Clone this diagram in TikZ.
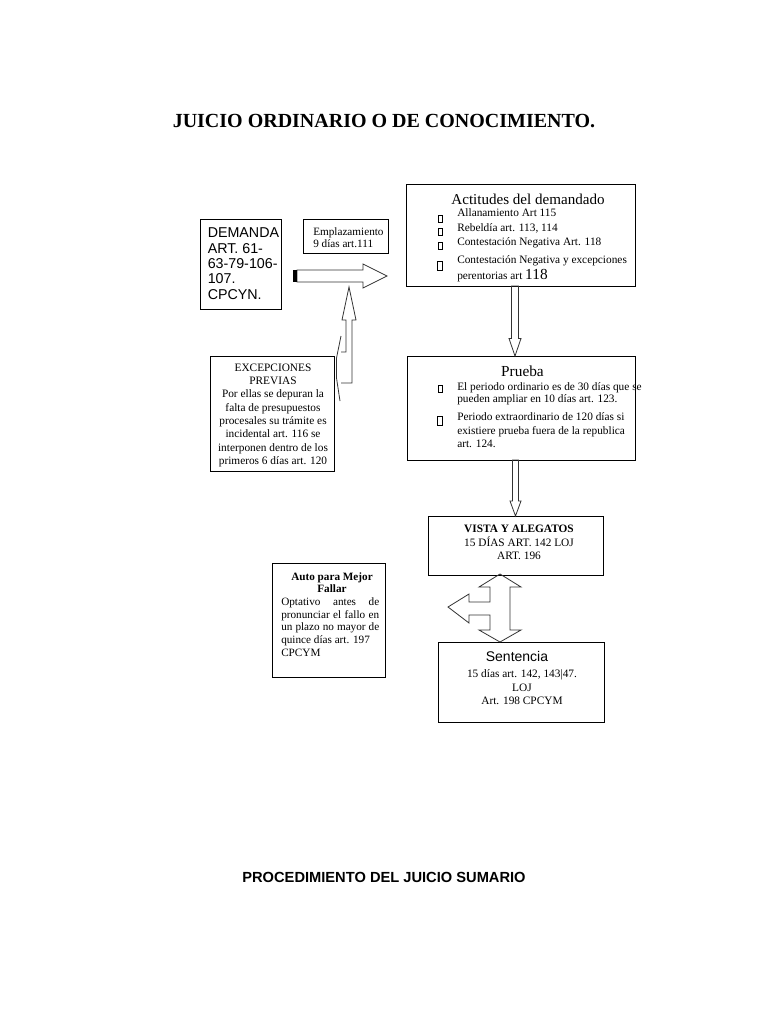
\documentclass[tikz,border=0pt]{standalone}
\usepackage{fontspec}
\setmainfont{Liberation Serif}
\setsansfont{Liberation Sans}
\newcommand{\txtsize}{\fontsize{8.5}{10}\selectfont}
\begin{document}
\begin{tikzpicture}[x=0.75pt,y=-0.75pt,
    box/.style={draw, line width=0.7pt, inner sep=0pt, outer sep=0pt},
    txt/.style={inner sep=0pt, font=\txtsize},
    bul/.style={draw, line width=0.4pt, inner sep=0pt, minimum width=3pt, minimum height=5.2pt},
    bigbul/.style={bul, minimum width=3.8pt, minimum height=7pt},
    blockarrow/.style={draw=black!80, line width=0.6pt}]
        \useasboundingbox (0,0) rectangle (768,1024);

        \node[inner sep=0pt, anchor=base, font=\fontsize{15}{18}\selectfont\bfseries] (title) at (384,127.3) {JUICIO ORDINARIO O DE CONOCIMIENTO.};

        % boxes
        \node[box, minimum width=60.75pt, minimum height=67.5pt] (dem) at (240.5,264) {};
        \node[box, minimum width=63.75pt, minimum height=25.5pt] (empl) at (345.5,236) {};
        \node[box, minimum width=93pt, minimum height=86.25pt] (exc) at (272,413.5) {};
        \node[box, minimum width=171.75pt, minimum height=76.5pt] (act) at (520.5,235) {};
        \node[box, minimum width=171pt, minimum height=78pt] (prueba) at (521,408) {};
        \node[box, minimum width=131.25pt, minimum height=44.25pt] (vista) at (515.5,545.5) {};
        \node[box, minimum width=84.75pt, minimum height=85.5pt] (auto) at (328.5,620) {};
        \node[box, minimum width=124.5pt, minimum height=60pt] (sent) at (521,682) {};

        % texts
        \node[inner sep=0pt, anchor=north west, align=left, font=\sffamily\fontsize{10.7}{11.5}\selectfont] (demtxt) at (207.5,227.8) {DEMANDA\\ART. 61-\\63-79-106-\\107.\\CPCYN.};
        \node[txt, anchor=north west, align=left, font=\fontsize{8.4}{8.8}\selectfont] (empltxt) at (313,227.5) {Emplazamiento\\9 días art.111};
        \node[txt, anchor=north, align=center] (exctxt) at (273,363.5) {EXCEPCIONES\\PREVIAS\\Por ellas se depuran la\\falta de presupuestos\\procesales su trámite es\\incidental  art. 116 se\\interponen dentro de los\\primeros 6 días  art. 120};

        \node[inner sep=0pt, anchor=base, font=\fontsize{11.3}{13}\selectfont] (acttit) at (528,204) {Actitudes del demandado};
        \node[bul] (b1) at (440,218.3) {};
        \node[bul] (b2) at (440,232) {};
        \node[bul] (b3) at (440,246) {};
        \node[bigbul] (b4) at (440,266) {};
        \node[txt, anchor=base west] (a1) at (457,216.5) {Allanamiento Art 115};
        \node[txt, anchor=base west] (a2) at (457,231) {Rebeldía  art. 113, 114};
        \node[txt, anchor=base west] (a3) at (457,245) {Contestación Negativa Art. 118};
        \node[txt, anchor=base west] (a4) at (457,263) {Contestación Negativa y excepciones};
        \node[txt, anchor=base west] (a5) at (457,279.5) {perentorias art {\fontsize{11.5}{12}\selectfont 118}};

        \node[inner sep=0pt, anchor=base, font=\fontsize{11.5}{13}\selectfont] (prtit) at (522.5,376.5) {Prueba};
        \node[bul] (b5) at (440,389) {};
        \node[bigbul] (b6) at (440,421) {};
        \node[txt, anchor=base west] (p1) at (457,390.5) {El periodo ordinario es de 30 días que se};
        \node[txt, anchor=base west] (p2) at (457,402.5) {pueden ampliar en 10 días art. 123.};
        \node[txt, anchor=base west] (p3) at (457,420) {Periodo extraordinario de 120 días si};
        \node[txt, anchor=base west] (p4) at (457,434) {existiere prueba fuera de la republica};
        \node[txt, anchor=base west] (p5) at (457,447.5) {art. 124.};

        \node[txt, anchor=north, align=center] (vistatxt) at (519,525) {\textbf{VISTA Y ALEGATOS}\\15 DÍAS ART. 142 LOJ\\ART. 196};

        \node[txt, anchor=north, align=center, font=\fontsize{8.4}{8.8}\selectfont\bfseries] (autotit) at (332,572.5) {Auto para Mejor\\Fallar};
        \node[txt, anchor=north west, align=left, font=\fontsize{8.4}{9.5}\selectfont] (autotxt) at (281,597.5) {\makebox[73.5pt][s]{Optativo antes de}\\\makebox[73.5pt][s]{pronunciar el fallo en}\\\makebox[73.5pt][s]{un plazo no mayor de}\\quince días art. 197\\CPCYM};

        \node[inner sep=0pt, anchor=base, font=\sffamily\fontsize{10.5}{12}\selectfont] (senttit) at (517,661.7) {Sentencia};
        \node[txt, anchor=north, align=center, font=\fontsize{8.5}{10.4}\selectfont] (senttxt) at (522,669) {15 días art. 142, 143|47.\\LOJ\\Art. 198 CPCYM};

        % block arrows
        \draw[blockarrow] (297,270) -- (363,270) -- (363,264) -- (387,276) -- (363,288) -- (363,282) -- (297,282) -- cycle;
        \fill (293,270) rectangle (297,282);

        \draw[blockarrow] (341,352) -- (346,352) -- (346,320) -- (342,320) -- (349,287) -- (356,320) -- (352,320) -- (352,383) -- (341,383);
        \draw[blockarrow] (341,336) -- (336.5,358) -- (336.5,378) -- (340,401);

        \draw[blockarrow] (511.5,286) -- (518.5,286) -- (518.5,338.5) -- (521,338.5) -- (515,356) -- (509,338.5) -- (511.5,338.5) -- cycle;
        \draw[blockarrow] (512.5,460) -- (518.5,460) -- (518.5,501) -- (521,501) -- (515.5,516) -- (510,501) -- (512.5,501) -- cycle;

        \draw[blockarrow] (500,574) -- (521,587) -- (510,587) -- (510,630) -- (521,630) -- (500,642) -- (479,630) -- (490,630) -- (490,615) -- (469,615) -- (469,623) -- (448,607) -- (469,594) -- (469,602) -- (490,602) -- (490,587) -- (479,587) -- cycle;

        \node[inner sep=0pt, anchor=base, font=\sffamily\fontsize{11}{13}\selectfont\bfseries] (subtit) at (384,882.3) {PROCEDIMIENTO DEL JUICIO SUMARIO};
\end{tikzpicture}
\end{document}
